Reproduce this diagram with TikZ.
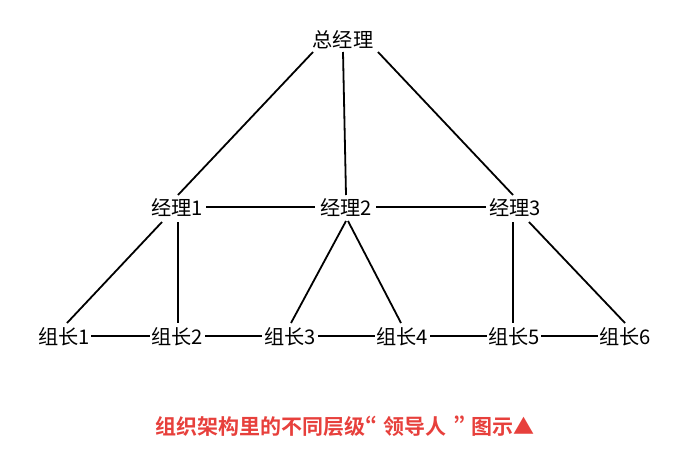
\documentclass[tikz,border=0pt]{standalone}
\usepackage{fontspec}
\setmainfont{Noto Sans CJK SC}
\newfontfamily\cjkbold{Noto Sans CJK SC Bold}
\newfontfamily\cjkboldp[RawFeature=+pwid]{Noto Sans CJK SC Bold}
\definecolor{capred}{RGB}{231,64,60}
\begin{document}
\begin{tikzpicture}[x=1pt,y=1pt,
  lbl/.style={inner sep=0pt,font=\fontsize{20.2}{23}\selectfont},
  link/.style={line width=1.8pt,black}]
\useasboundingbox (0,0) rectangle (685,-474);
\node[lbl] (top) at (343,-40) {总经理};
\node[lbl] (m1) at (177,-208) {经理1};
\node[lbl] (m2) at (346,-208) {经理2};
\node[lbl] (m3) at (515,-208) {经理3};
\node[lbl] (z1) at (64,-337) {组长1};
\node[lbl] (z2) at (177,-337) {组长2};
\node[lbl] (z3) at (290,-337) {组长3};
\node[lbl] (z4) at (402,-337) {组长4};
\node[lbl] (z5) at (514,-337) {组长5};
\node[lbl] (z6) at (625,-337) {组长6};
\node[inner sep=0pt,text=capred,font=\cjkbold\fontsize{21}{24}\selectfont] (cap) at (345,-426) {组织架构里的不同层级{\cjkboldp“}\hspace{6pt}领导人\hspace{7pt}{\cjkboldp”}\hspace{6pt}图示▲};
% top level
\draw[link] ([shift={(-30,-12)}]top.center) -- ([shift={(1,13)}]m1.center);
\draw[link] ([shift={(0,-12)}]top.center) -- ([shift={(0,13)}]m2.center);
\draw[link] ([shift={(35,-12)}]top.center) -- ([shift={(-2,13)}]m3.center);
% managers row
\draw[link] ([shift={(29,1)}]m1.center) -- ([shift={(-31,1)}]m2.center);
\draw[link] ([shift={(30,1)}]m2.center) -- ([shift={(-29,1)}]m3.center);
% managers to leaders
\draw[link] ([shift={(-15,-14)}]m1.center) -- ([shift={(3,14)}]z1.center);
\draw[link] ([shift={(1,-14)}]m1.center) -- ([shift={(1,14)}]z2.center);
\draw[link] ([shift={(0,-13)}]m2.center) -- ([shift={(1,14)}]z3.center);
\draw[link] ([shift={(2,-13)}]m2.center) -- ([shift={(-1,14)}]z4.center);
\draw[link] ([shift={(-2,-14)}]m3.center) -- ([shift={(-1,14)}]z5.center);
\draw[link] ([shift={(14,-14)}]m3.center) -- ([shift={(0,14)}]z6.center);
% leaders row
\draw[link] ([shift={(27,1)}]z1.center) -- ([shift={(-27,1)}]z2.center);
\draw[link] ([shift={(28,1)}]z2.center) -- ([shift={(-28,1)}]z3.center);
\draw[link] ([shift={(28,1)}]z3.center) -- ([shift={(-27,1)}]z4.center);
\draw[link] ([shift={(28,1)}]z4.center) -- ([shift={(-27,1)}]z5.center);
\draw[link] ([shift={(27,1)}]z5.center) -- ([shift={(-27,1)}]z6.center);
\end{tikzpicture}
\end{document}
